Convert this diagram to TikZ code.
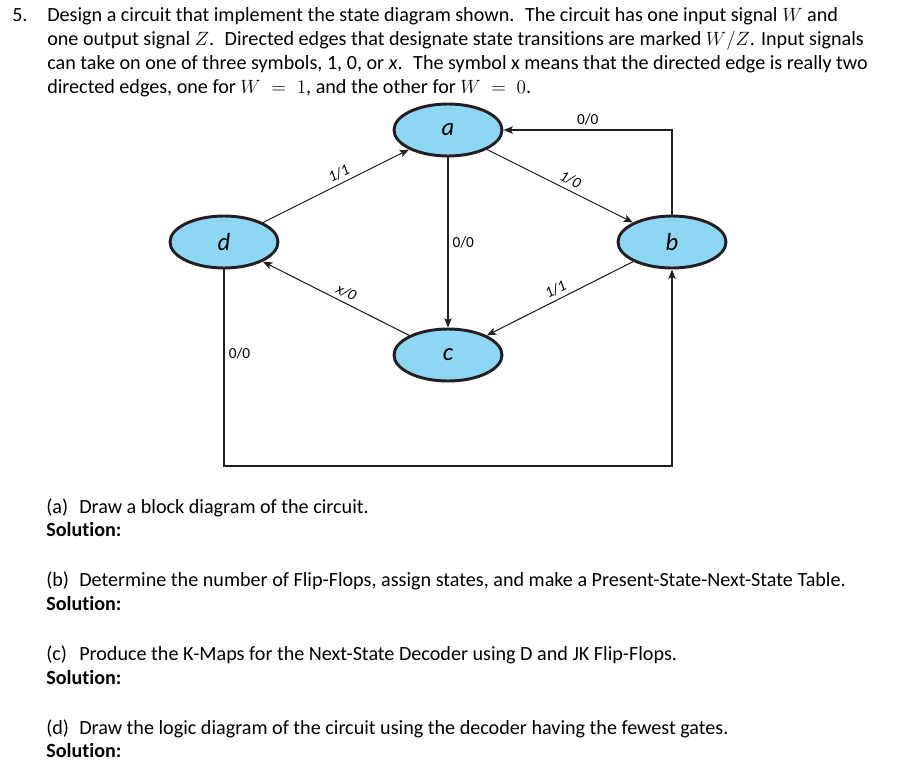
\documentclass[tikz,border=0pt]{standalone}
\usepackage{fontspec}
\setmainfont[Ligatures=NoCommon]{Carlito}
\usetikzlibrary{shapes.geometric, arrows.meta}
\definecolor{stateblue}{RGB}{141,215,245}
\definecolor{stateline}{RGB}{35,31,32}
\tikzstyle{state} = [ellipse, minimum width=81pt, minimum height=39pt, inner sep=0pt, draw=stateline, line width=2.2pt, fill=stateblue, font=\fontsize{18.5}{18}\selectfont\itshape]
\tikzstyle{arrow} = [line width=0.8pt, draw=stateline, -{Stealth[length=7pt,width=5.5pt,inset=1.5pt]}]
\tikzstyle{backarrow} = [line width=0.8pt, draw=stateline, {Stealth[length=7pt,width=5.5pt,inset=1.5pt]}-]
\tikzstyle{edgelbl} = [font=\fontsize{11.5}{12}\selectfont, inner sep=3pt]
\tikzstyle{txt} = [anchor=base west, inner sep=0pt, font=\fontsize{15.1}{24}\selectfont]

\begin{document}
\begin{tikzpicture}[x=0.75pt, y=-0.75pt]
\useasboundingbox (0,0) rectangle (915,776);
% question text
\node (q5) [txt] at (12,21) {5.};
\node (q1) [txt] at (47,21) {Design a circuit that implement the state diagram shown.~ The circuit has one input signal $W$ and};
\node (q2) [txt] at (47,45) {one output signal $Z$.~ Directed edges that designate state transitions are marked $W/Z$. Input signals};
\node (q3) [txt] at (47,69) {can take on one of three symbols, 1, 0, or \textit{x}.~ The symbol x means that the directed edge is really two};
\node (q4) [txt] at (47,93) {directed edges, one for $W\;=\;1$, and the other for $W\;=\;0$.};

% states
\node (a) [state] at (448,130) {a};
\node (d) [state] at (224,242) {d};
\node (b) [state] at (672,242) {b};
\node (c) [state] at (448,355) {c};
\coordinate (bot) at (448,466);

\draw[arrow] (d) -- node[edgelbl, sloped, above, pos=0.55] {\itshape 1/1} (a);
\draw[arrow] (a) -- node[edgelbl, sloped, above, pos=0.54] {\itshape 1/0} (b);
\draw[arrow] (a) -- node[edgelbl, right] {0/0} (c);
\draw[backarrow] (c) -- node[edgelbl, sloped, above, pos=0.5] {\itshape 1/1} (b);
\draw[backarrow] (d) -- node[edgelbl, sloped, above, pos=0.54] {\itshape x/0} (c);
\draw[arrow, line width=1.2pt] (b.north) |- node[edgelbl, above, pos=0.75] {0/0} (a.east);
\draw[arrow, line width=1.2pt] (d.south) -- node[edgelbl, right, pos=0.43] {0/0} (d.south |- bot) -- (b.south |- bot) -- (b.south);

% parts
\node (pa) [txt] at (46,513) {(a)};
\node (ta) [txt] at (79,513) {Draw a block diagram of the circuit.};
\node (sa) [txt] at (46,536) {\bfseries Solution:};
\node (pb) [txt] at (46,586) {(b)};
\node (tb) [txt] at (79,586) {Determine the number of Flip-Flops, assign states, and make a Present-State-Next-State Table.};
\node (sb) [txt] at (46,610) {\bfseries Solution:};
\node (pc) [txt] at (46,660) {(c)};
\node (tc) [txt] at (79,660) {Produce the K-Maps for the Next-State Decoder using D and JK Flip-Flops.};
\node (sc) [txt] at (46,684) {\bfseries Solution:};
\node (pd) [txt] at (46,734) {(d)};
\node (td) [txt] at (79,734) {Draw the logic diagram of the circuit using the decoder having the fewest gates.};
\node (sd) [txt] at (46,757) {\bfseries Solution:};
\end{tikzpicture}
\end{document}
